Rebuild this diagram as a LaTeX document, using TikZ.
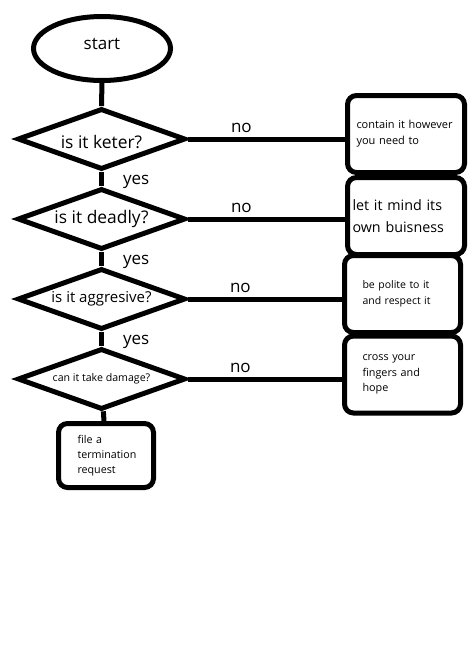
\documentclass[tikz,border=0pt]{standalone}
\usepackage{fontspec}
\setmainfont{Open Sans}
\usetikzlibrary{shapes.geometric}

\tikzset{
  terminal/.style={draw, ellipse, line width=5pt, inner sep=0pt, minimum width=137pt, minimum height=64pt},
  decision/.style={draw, diamond, line width=5pt, inner sep=0pt, aspect=2.9, minimum width=168pt, minimum height=61pt},
  outcome/.style={draw, rectangle, rounded corners=9pt, line width=5pt, align=left, minimum height=77pt},
  link/.style={line width=5pt},
  answer/.style={font=\fontsize{17}{17}\selectfont, inner sep=1pt}
}

\begin{document}
\begin{tikzpicture}[x=1pt, y=-1pt]
        \useasboundingbox (0,0) rectangle (474,651);

        \node [terminal, font=\fontsize{17}{17}\selectfont, text depth=9pt] (start) at (102, 48.5) {start};

        \node [decision, font=\fontsize{17.4}{17.4}\selectfont, text height=19pt] (keter) at (101.5, 139) {is it keter?};
        \node [decision, font=\fontsize{17.4}{17.4}\selectfont] (deadly) at (101.5, 219) {is it deadly?};
        \node [decision, font=\fontsize{15}{15}\selectfont] (aggro) at (101.5, 299) {is it aggresive?};
        \node [decision, font=\fontsize{10.6}{10.6}\selectfont] (damage) at (101.5, 379) {can it take damage?};

        \node [outcome, font=\fontsize{11}{16}\selectfont, inner xsep=9pt, text width=99pt] (contain) at (406, 134) {contain it however\\you need to};
        \node [outcome, font=\fontsize{14.3}{22}\selectfont, inner xsep=5pt, text width=107pt] (ignore) at (406, 216) {let it mind its\\own buisness};
        \node [outcome, font=\fontsize{10.5}{16}\selectfont, inner xsep=18pt, text width=80pt] (polite) at (402.5, 294) {be polite to it\\and respect it};
        \node [outcome, font=\fontsize{10.8}{15.5}\selectfont, inner xsep=18pt, text width=80pt] (hope) at (402.5, 374.5) {cross your\\fingers and\\hope};
        \node [outcome, minimum height=64pt, font=\fontsize{10.7}{15}\selectfont, inner xsep=19pt, text width=57pt] (terminate) at (106, 455.5) {file a\\termination\\request};

        \draw [link] (start) -- (keter);
        \draw [link] (keter) -- node [answer, right, xshift=18pt, yshift=-3pt] {yes} (deadly);
        \draw [link] (deadly) -- node [answer, right, xshift=18pt, yshift=-3pt] {yes} (aggro);
        \draw [link] (aggro) -- node [answer, right, xshift=18pt, yshift=-3pt] {yes} (damage);
        \draw [link] (damage) -- (terminate);

        \draw [link] (keter.east) -- node [answer, above, pos=0.34, yshift=3pt] {no} (keter.east -| contain.west);
        \draw [link] (deadly.east) -- node [answer, above, pos=0.34, yshift=3pt] {no} (deadly.east -| ignore.west);
        \draw [link] (aggro.east) -- node [answer, above, pos=0.34, yshift=3pt] {no} (aggro.east -| polite.west);
        \draw [link] (damage.east) -- node [answer, above, pos=0.34, yshift=3pt] {no} (damage.east -| hope.west);
      \end{tikzpicture}
\end{document}
